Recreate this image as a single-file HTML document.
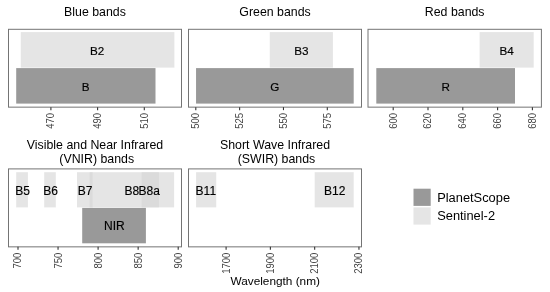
<!DOCTYPE html>
<html lang="en">
<head>
<meta charset="utf-8">
<title>Spectral bands: PlanetScope vs Sentinel-2</title>
<style>
html,body{margin:0;padding:0;background:#fff;}
body{width:550px;height:292px;overflow:hidden;}
svg{display:block;font-family:"Liberation Sans",sans-serif;}
</style>
</head>
<body>
<svg width="550" height="292" viewBox="0 0 550 292">
<rect x="0" y="0" width="550" height="292" fill="#ffffff"/>
<rect x="20.80" y="32.10" width="153.60" height="35.50" fill="rgba(212,212,212,0.6)"/>
<rect x="16.20" y="68.10" width="139.30" height="35.50" fill="#999999"/>
<text x="97.20" y="54.89" font-size="11.7" text-anchor="middle" fill="#000" stroke="#000" stroke-width="0.15">B2</text>
<text x="85.60" y="90.64" font-size="11.7" text-anchor="middle" fill="#000" stroke="#000" stroke-width="0.15">B</text>
<rect x="8.50" y="29.30" width="173.00" height="77.85" fill="none" stroke="#747474" stroke-width="1"/>
<line x1="50.90" y1="107.15" x2="50.90" y2="110.15" stroke="#333" stroke-width="1.1"/>
<text transform="translate(54.35,112.95) rotate(-90) scale(1,1.06)" font-size="9.5" text-anchor="end" fill="#454545">470</text>
<line x1="97.60" y1="107.15" x2="97.60" y2="110.15" stroke="#333" stroke-width="1.1"/>
<text transform="translate(101.05,112.95) rotate(-90) scale(1,1.06)" font-size="9.5" text-anchor="end" fill="#454545">490</text>
<line x1="144.30" y1="107.15" x2="144.30" y2="110.15" stroke="#333" stroke-width="1.1"/>
<text transform="translate(147.75,112.95) rotate(-90) scale(1,1.06)" font-size="9.5" text-anchor="end" fill="#454545">510</text>
<text x="95.00" y="16.30" font-size="12.35" text-anchor="middle" fill="#000">Blue bands</text>
<rect x="269.80" y="32.10" width="63.10" height="35.50" fill="rgba(212,212,212,0.6)"/>
<rect x="196.05" y="68.10" width="157.65" height="35.50" fill="#999999"/>
<text x="301.35" y="54.89" font-size="11.7" text-anchor="middle" fill="#000" stroke="#000" stroke-width="0.15">B3</text>
<text x="274.70" y="90.64" font-size="11.7" text-anchor="middle" fill="#000" stroke="#000" stroke-width="0.15">G</text>
<rect x="188.50" y="29.30" width="173.00" height="77.85" fill="none" stroke="#747474" stroke-width="1"/>
<line x1="195.80" y1="107.15" x2="195.80" y2="110.15" stroke="#333" stroke-width="1.1"/>
<text transform="translate(199.25,112.95) rotate(-90) scale(1,1.06)" font-size="9.5" text-anchor="end" fill="#454545">500</text>
<line x1="239.63" y1="107.15" x2="239.63" y2="110.15" stroke="#333" stroke-width="1.1"/>
<text transform="translate(243.08,112.95) rotate(-90) scale(1,1.06)" font-size="9.5" text-anchor="end" fill="#454545">525</text>
<line x1="283.47" y1="107.15" x2="283.47" y2="110.15" stroke="#333" stroke-width="1.1"/>
<text transform="translate(286.92,112.95) rotate(-90) scale(1,1.06)" font-size="9.5" text-anchor="end" fill="#454545">550</text>
<line x1="327.30" y1="107.15" x2="327.30" y2="110.15" stroke="#333" stroke-width="1.1"/>
<text transform="translate(330.75,112.95) rotate(-90) scale(1,1.06)" font-size="9.5" text-anchor="end" fill="#454545">575</text>
<text x="275.00" y="16.30" font-size="12.35" text-anchor="middle" fill="#000">Green bands</text>
<rect x="479.60" y="32.10" width="54.10" height="35.50" fill="rgba(212,212,212,0.6)"/>
<rect x="376.30" y="68.10" width="138.70" height="35.50" fill="#999999"/>
<text x="506.65" y="54.89" font-size="11.7" text-anchor="middle" fill="#000" stroke="#000" stroke-width="0.15">B4</text>
<text x="445.65" y="90.64" font-size="11.7" text-anchor="middle" fill="#000" stroke="#000" stroke-width="0.15">R</text>
<rect x="368.00" y="29.30" width="173.40" height="77.85" fill="none" stroke="#747474" stroke-width="1"/>
<line x1="393.20" y1="107.15" x2="393.20" y2="110.15" stroke="#333" stroke-width="1.1"/>
<text transform="translate(396.65,112.95) rotate(-90) scale(1,1.06)" font-size="9.5" text-anchor="end" fill="#454545">600</text>
<line x1="428.00" y1="107.15" x2="428.00" y2="110.15" stroke="#333" stroke-width="1.1"/>
<text transform="translate(431.45,112.95) rotate(-90) scale(1,1.06)" font-size="9.5" text-anchor="end" fill="#454545">620</text>
<line x1="462.80" y1="107.15" x2="462.80" y2="110.15" stroke="#333" stroke-width="1.1"/>
<text transform="translate(466.25,112.95) rotate(-90) scale(1,1.06)" font-size="9.5" text-anchor="end" fill="#454545">640</text>
<line x1="497.60" y1="107.15" x2="497.60" y2="110.15" stroke="#333" stroke-width="1.1"/>
<text transform="translate(501.05,112.95) rotate(-90) scale(1,1.06)" font-size="9.5" text-anchor="end" fill="#454545">660</text>
<line x1="532.40" y1="107.15" x2="532.40" y2="110.15" stroke="#333" stroke-width="1.1"/>
<text transform="translate(535.85,112.95) rotate(-90) scale(1,1.06)" font-size="9.5" text-anchor="end" fill="#454545">680</text>
<text x="454.70" y="16.30" font-size="12.35" text-anchor="middle" fill="#000">Red bands</text>
<rect x="16.20" y="172.20" width="11.70" height="35.20" fill="rgba(212,212,212,0.6)"/>
<rect x="44.20" y="172.20" width="11.60" height="35.20" fill="rgba(212,212,212,0.6)"/>
<rect x="77.00" y="172.20" width="15.60" height="35.20" fill="rgba(212,212,212,0.6)"/>
<rect x="89.70" y="172.20" width="84.40" height="35.20" fill="rgba(212,212,212,0.6)"/>
<rect x="141.70" y="172.20" width="17.20" height="35.20" fill="rgba(212,212,212,0.6)"/>
<rect x="82.20" y="207.90" width="63.70" height="35.40" fill="#999999"/>
<text x="22.55" y="194.60" font-size="12.0" text-anchor="middle" fill="#000" stroke="#000" stroke-width="0.15">B5</text>
<text x="50.50" y="194.60" font-size="12.0" text-anchor="middle" fill="#000" stroke="#000" stroke-width="0.15">B6</text>
<text x="85.10" y="194.60" font-size="12.0" text-anchor="middle" fill="#000" stroke="#000" stroke-width="0.15">B7</text>
<text x="131.80" y="194.60" font-size="12.0" text-anchor="middle" fill="#000" stroke="#000" stroke-width="0.15">B8</text>
<text x="149.20" y="194.60" font-size="12.0" text-anchor="middle" fill="#000" stroke="#000" stroke-width="0.15">B8a</text>
<text x="114.35" y="230.15" font-size="12.0" text-anchor="middle" fill="#000" stroke="#000" stroke-width="0.15">NIR</text>
<rect x="8.50" y="168.90" width="173.00" height="77.95" fill="none" stroke="#747474" stroke-width="1"/>
<line x1="18.00" y1="246.85" x2="18.00" y2="249.85" stroke="#333" stroke-width="1.1"/>
<text transform="translate(21.45,252.65) rotate(-90) scale(1,1.06)" font-size="9.5" text-anchor="end" fill="#454545">700</text>
<line x1="58.05" y1="246.85" x2="58.05" y2="249.85" stroke="#333" stroke-width="1.1"/>
<text transform="translate(61.50,252.65) rotate(-90) scale(1,1.06)" font-size="9.5" text-anchor="end" fill="#454545">750</text>
<line x1="98.10" y1="246.85" x2="98.10" y2="249.85" stroke="#333" stroke-width="1.1"/>
<text transform="translate(101.55,252.65) rotate(-90) scale(1,1.06)" font-size="9.5" text-anchor="end" fill="#454545">800</text>
<line x1="138.15" y1="246.85" x2="138.15" y2="249.85" stroke="#333" stroke-width="1.1"/>
<text transform="translate(141.60,252.65) rotate(-90) scale(1,1.06)" font-size="9.5" text-anchor="end" fill="#454545">850</text>
<line x1="178.20" y1="246.85" x2="178.20" y2="249.85" stroke="#333" stroke-width="1.1"/>
<text transform="translate(181.65,252.65) rotate(-90) scale(1,1.06)" font-size="9.5" text-anchor="end" fill="#454545">900</text>
<text x="95.00" y="149.20" font-size="12.35" text-anchor="middle" fill="#000">Visible and Near Infrared</text>
<text x="96.70" y="163.10" font-size="12.35" text-anchor="middle" fill="#000">(VNIR) bands</text>
<rect x="196.10" y="172.20" width="20.10" height="35.20" fill="rgba(212,212,212,0.6)"/>
<rect x="314.70" y="172.20" width="39.00" height="35.20" fill="rgba(212,212,212,0.6)"/>
<text x="205.85" y="194.60" font-size="12.0" text-anchor="middle" fill="#000" stroke="#000" stroke-width="0.15">B11</text>
<text x="334.70" y="194.60" font-size="12.0" text-anchor="middle" fill="#000" stroke="#000" stroke-width="0.15">B12</text>
<rect x="188.50" y="168.90" width="173.00" height="77.95" fill="none" stroke="#747474" stroke-width="1"/>
<line x1="226.10" y1="246.85" x2="226.10" y2="249.85" stroke="#333" stroke-width="1.1"/>
<text transform="translate(229.55,252.65) rotate(-90) scale(1,1.06)" font-size="9.5" text-anchor="end" fill="#454545">1700</text>
<line x1="270.38" y1="246.85" x2="270.38" y2="249.85" stroke="#333" stroke-width="1.1"/>
<text transform="translate(273.83,252.65) rotate(-90) scale(1,1.06)" font-size="9.5" text-anchor="end" fill="#454545">1900</text>
<line x1="314.67" y1="246.85" x2="314.67" y2="249.85" stroke="#333" stroke-width="1.1"/>
<text transform="translate(318.12,252.65) rotate(-90) scale(1,1.06)" font-size="9.5" text-anchor="end" fill="#454545">2100</text>
<line x1="358.95" y1="246.85" x2="358.95" y2="249.85" stroke="#333" stroke-width="1.1"/>
<text transform="translate(362.40,252.65) rotate(-90) scale(1,1.06)" font-size="9.5" text-anchor="end" fill="#454545">2300</text>
<text x="275.00" y="149.20" font-size="12.35" text-anchor="middle" fill="#000">Short Wave Infrared</text>
<text x="276.50" y="163.10" font-size="12.35" text-anchor="middle" fill="#000">(SWIR) bands</text>
<text x="275.20" y="285.45" font-size="11.8" text-anchor="middle" fill="#000">Wavelength (nm)</text>
<rect x="413.50" y="188.70" width="17.20" height="17.20" fill="#999999"/>
<rect x="413.50" y="207.40" width="17.20" height="17.20" fill="rgba(212,212,212,0.6)"/>
<text x="437.20" y="202.20" font-size="12.85" text-anchor="start" fill="#000">PlanetScope</text>
<text x="437.20" y="220.20" font-size="12.85" text-anchor="start" fill="#000">Sentinel-2</text>
</svg>
</body>
</html>
